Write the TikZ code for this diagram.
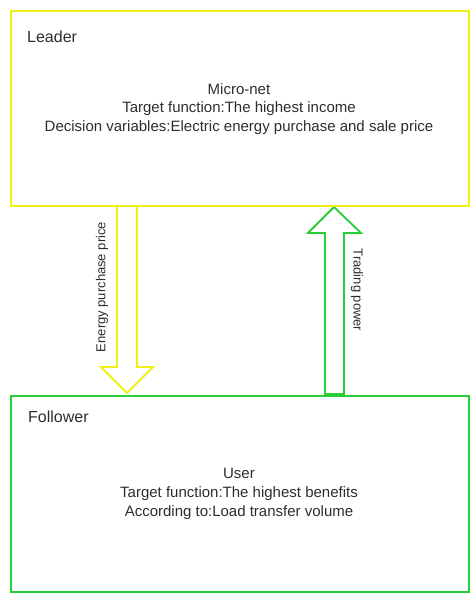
\documentclass[tikz,border=0pt]{standalone}
\usepackage{fontspec}
\setmainfont{Liberation Sans}
\definecolor{ylw}{RGB}{240,240,20}
\definecolor{grn}{RGB}{40,205,55}
\definecolor{txt}{RGB}{45,45,45}
\begin{document}
\begin{tikzpicture}[x=1pt,y=-1pt,
  box/.style={draw, line width=2pt, minimum width=458pt, minimum height=195pt, anchor=north west, inner sep=0pt},
  body/.style={text=txt, align=center, font=\fontsize{15}{18.7}\selectfont},
  title/.style={text=txt, anchor=west, font=\fontsize{16}{19}\selectfont, inner sep=0pt},
  lbl/.style={text=txt, font=\fontsize{13}{15}\selectfont, inner sep=0pt},
  fat/.style={line width=1.8pt, fill=white, line join=miter}]
\useasboundingbox (0,0) rectangle (474,600);
% yellow down arrow
\coordinate (ytip) at (127,393);
\draw[fat, draw=ylw] (117,205) -- (117,367) -- (101,367) -- (ytip) -- (153,367) -- (137,367) -- (137,205);
% green up arrow
\coordinate (gtip) at (334,207);
\draw[fat, draw=grn] (325,394) -- (325,233) -- (308,233) -- (gtip) -- (361,233) -- (344,233) -- (344,394) -- cycle;
\node[box, draw=ylw] (leader) at (10,10) {};
\node[box, draw=grn, minimum height=196pt] (follower) at (10,395) {};
\node[title] (lt) at (27,37) {Leader};
\node[title] (ft) at (28,417) {Follower};
\node[body] (lb) at (239,109) {Micro-net\\Target function:The highest income\\Decision variables:Electric energy purchase and sale price};
\node[body] (fb) at (239,494) {User\\Target function:The highest benefits\\According to:Load transfer volume};
\node[lbl, rotate=90] (el) at (102,287) {Energy purchase price};
\node[lbl, rotate=-90] (tl) at (357,290) {Trading power};
\end{tikzpicture}
\end{document}
